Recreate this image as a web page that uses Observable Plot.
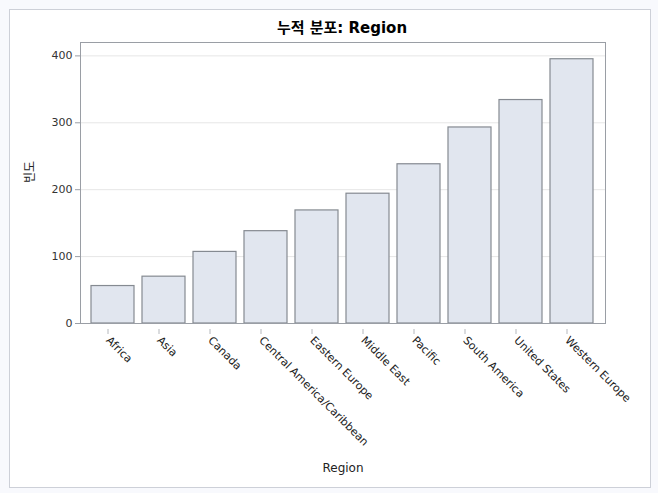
<!DOCTYPE html>
<html>
<head>
<meta charset="utf-8">
<script src="https://cdn.jsdelivr.net/npm/d3@7"></script>
<script src="https://cdn.jsdelivr.net/npm/@observablehq/plot@0.6"></script>
<style>
  html, body { margin: 0; padding: 0; background: #f8f9fd; }
  #wrap { position: relative; width: 658px; height: 493px; }
  #box { position: absolute; left: 9px; top: 9px; width: 642px; height: 479px; background: #fff; border: 1px solid #cdd0d8; box-sizing: border-box; }
  #title { position: absolute; left: 0; width: 684px; top: 16px; text-align: center; font: bold 15px "DejaVu Sans", "Noto Sans CJK KR", sans-serif; color: #000; }
  #chart { position: absolute; left: 0; top: 0; }
</style>
</head>
<body>
<div id="wrap">
  <div id="box"></div>
  <div id="title">누적 분포: Region</div>
  <div id="chart"></div>
</div>
<script>
const regions = ["Africa", "Asia", "Canada", "Central America/Caribbean", "Eastern Europe", "Middle East", "Pacific", "South America", "United States", "Western Europe"];
const cumulativeCounts = [56, 70, 107, 138, 169, 194, 238, 293, 334, 395];
const yTicks = [0, 100, 200, 300, 400];

const data = regions.map((r, i) => ({region: r, count: cumulativeCounts[i]}));

const chart = Plot.plot({
  width: 658,
  height: 493,
  marginLeft: 80,
  marginRight: 53,
  marginTop: 42,
  marginBottom: 170,
  style: {background: "transparent", fontFamily: "'DejaVu Sans', sans-serif", fontSize: "11px", color: "#333"},
  x: {domain: regions, padding: 0.15, inset: 2, label: null},
  y: {domain: [0, 420], label: null},
  marks: [
    Plot.gridY(yTicks, {stroke: "#e6e6e6", strokeOpacity: 1}),
    Plot.barY(data, {x: "region", y: "count", fill: "#e1e6ef", stroke: "#858a91", strokeWidth: 1.2}),
    Plot.frame({stroke: "#9a9ea5"}),
    Plot.axisY(yTicks, {tickSize: 5, tickPadding: 3, stroke: "#9a9ea5", fill: "#333", label: null}),
    Plot.axisX({tickSize: 5, tickRotate: 45, tickPadding: 4, dx: -5, dy: 6, stroke: "#b5b8bd", fill: "#222", label: null}),
    Plot.text(["빈도"], {frameAnchor: "left", dx: -50, rotate: -90, fontSize: 12, fill: "#222", fontFamily: "'Noto Sans CJK KR', sans-serif"}),
    Plot.text(["Region"], {frameAnchor: "bottom", dy: 148, fontSize: 12, fill: "#222"})
  ]
});
document.getElementById("chart").appendChild(chart);
</script>
</body>
</html>
